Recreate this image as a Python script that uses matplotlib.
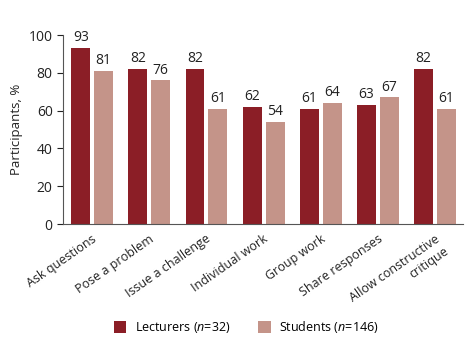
import numpy as np
import matplotlib.pyplot as plt

categories = ["Ask questions", "Pose a problem", "Issue a challenge", "Individual work",
              "Group work", "Share responses", "Allow constructive\ncritique"]
lecturers = [93, 82, 82, 62, 61, 63, 82]
students = [81, 76, 61, 54, 64, 67, 61]

plt.rcParams['font.family'] = ['Open Sans', 'DejaVu Sans']
plt.rcParams['mathtext.fontset'] = 'custom'
plt.rcParams['mathtext.it'] = 'Open Sans:italic'
dark = "#8B1E26"
light = "#C49489"

fig = plt.figure(figsize=(4.74, 3.54), dpi=100)
ax = fig.add_axes([0.133, 0.367, 0.844, 0.534])

x = np.arange(len(categories))
w = 0.33
b1 = ax.bar(x - 0.19, lecturers, w, color=dark, label="Lecturers ($n$=32)")
b2 = ax.bar(x + 0.21, students, w, color=light, label="Students ($n$=146)")

for bars, vals in [(b1, lecturers), (b2, students)]:
    for r, v in zip(bars, vals):
        ax.text(r.get_x() + r.get_width() / 2, v + 1.5, str(v), ha="center", va="bottom",
                fontsize=10, color="#222222")

ax.set_xlim(-0.5, len(categories) - 0.5)
ax.set_ylim(0, 100)
ax.set_yticks(range(0, 101, 20))
ax.set_ylabel("Participants, %", fontsize=9.5, color="#222222")
ax.set_xticks(x)
ax.set_xticklabels(categories, rotation=35, ha="right", rotation_mode="anchor",
                   fontsize=9, color="#222222")
ax.tick_params(axis="x", length=0, pad=6)
ax.tick_params(axis="y", labelsize=10, colors="#222222", length=4)
for s in ["top", "right"]:
    ax.spines[s].set_visible(False)
for s in ["left", "bottom"]:
    ax.spines[s].set_color("#555555")

fig.legend(handles=[b1, b2], loc="center", bbox_to_anchor=(0.52, 0.075), ncol=2,
           frameon=False, fontsize=9, handlelength=1.0, handleheight=1.1,
           columnspacing=2.2, handletextpad=0.7)

fig.savefig("out.png", dpi=100)
